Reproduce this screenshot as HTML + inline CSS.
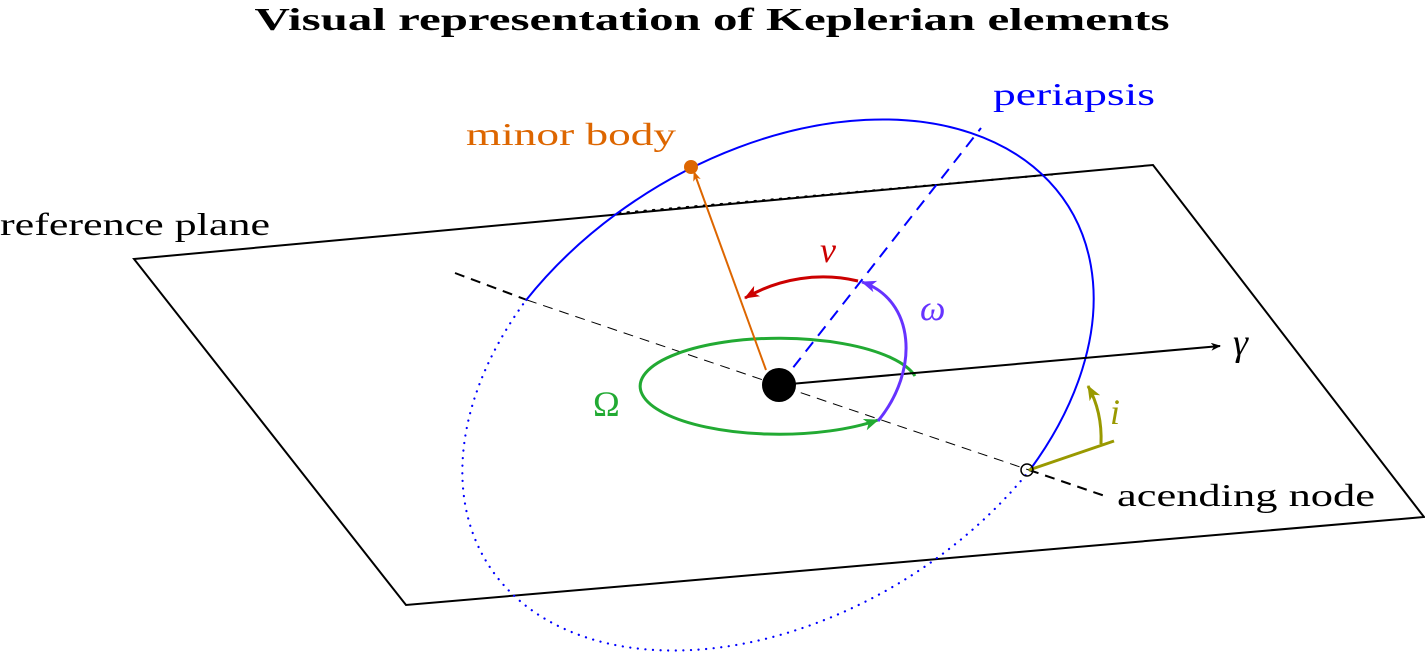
<!DOCTYPE html>
<html><head><meta charset="utf-8"><style>
html,body{margin:0;padding:0;background:#fff;}
svg{display:block;}
text{font-family:"Liberation Serif",serif;}
</style></head><body>
<svg width="1425" height="659" viewBox="0 0 1425 659" xmlns="http://www.w3.org/2000/svg">
<defs>
<marker id="aK" markerWidth="10" markerHeight="8" refX="9" refY="4" orient="auto" markerUnits="userSpaceOnUse"><path d="M0,0 L10,4 L0,8 L3,4z" fill="#000"/></marker>
<marker id="aO" markerWidth="10" markerHeight="8" refX="9" refY="4" orient="auto" markerUnits="userSpaceOnUse"><path d="M0,0 L10,4 L0,8 L3,4z" fill="#dd6600"/></marker>
<marker id="aR" markerWidth="16" markerHeight="12" refX="14" refY="6" orient="auto" markerUnits="userSpaceOnUse"><path d="M0,0 L15,6 L0,12 L4,6z" fill="#cc0000"/></marker>
<marker id="aP" markerWidth="16" markerHeight="12" refX="14" refY="6" orient="auto" markerUnits="userSpaceOnUse"><path d="M0,0 L15,6 L0,12 L4,6z" fill="#6633ff"/></marker>
<marker id="aG" markerWidth="16" markerHeight="12" refX="14" refY="6" orient="auto" markerUnits="userSpaceOnUse"><path d="M0,0 L15,6 L0,12 L4,6z" fill="#22aa33"/></marker>
<marker id="aY" markerWidth="16" markerHeight="12" refX="14" refY="6" orient="auto" markerUnits="userSpaceOnUse"><path d="M0,0 L15,6 L0,12 L4,6z" fill="#999900"/></marker>
</defs>
<text x="712" y="30" text-anchor="middle" font-weight="bold" font-size="32" textLength="915" lengthAdjust="spacingAndGlyphs">Visual representation of Keplerian elements</text>
<polygon points="134,259 1153,165 1424,517 406,605" fill="none" stroke="#000" stroke-width="2"/>
<line x1="619" y1="213" x2="1058" y2="174" stroke="#000" stroke-width="2" stroke-dasharray="1.5,7" stroke-linecap="round"/>
<line x1="455" y1="273" x2="527" y2="300" stroke="#000" stroke-width="2" stroke-dasharray="10,7"/>
<line x1="527" y1="300" x2="1029" y2="470" stroke="#000" stroke-width="1" stroke-dasharray="10,7"/>
<line x1="1029" y1="470" x2="1105" y2="496" stroke="#000" stroke-width="2" stroke-dasharray="10,7"/>
<path d="M525.7,300.6 A348.5,235.1 -32.1 0 1 1030.3,469.4" fill="none" stroke="#0000ff" stroke-width="2"/>
<path d="M1030.3,469.4 A348.5,235.1 -32.1 0 1 525.7,300.6" fill="none" stroke="#0000ff" stroke-width="2.2" stroke-dasharray="0.1,7.5" stroke-linecap="round"/>
<line x1="781" y1="383" x2="981" y2="128" stroke="#0000ff" stroke-width="2" stroke-dasharray="12,8"/>
<path d="M915,376 A139,48 0 1 0 878,420" fill="none" stroke="#22aa33" stroke-width="3" marker-end="url(#aG)"/>
<line x1="779" y1="385" x2="1220" y2="346" stroke="#000" stroke-width="2" marker-end="url(#aK)"/>
<path d="M878,421 C920,370 915,300 862,282" fill="none" stroke="#6633ff" stroke-width="3" marker-end="url(#aP)"/>
<path d="M858,281 C820,272 780,278 745,298" fill="none" stroke="#cc0000" stroke-width="3" marker-end="url(#aR)"/>
<line x1="766" y1="370" x2="694" y2="172" stroke="#dd6600" stroke-width="2" marker-end="url(#aO)"/>
<circle cx="691" cy="167" r="7" fill="#dd6600"/>
<circle cx="779" cy="385" r="17" fill="#000"/>
<line x1="1029" y1="470" x2="1114" y2="441" stroke="#999900" stroke-width="3"/>
<path d="M1101,444 C1102,420 1097,402 1088,386" fill="none" stroke="#999900" stroke-width="3" marker-end="url(#aY)"/>
<circle cx="1027" cy="470" r="6" fill="none" stroke="#000" stroke-width="1.5"/>
<text x="0" y="235" font-size="32" textLength="270" lengthAdjust="spacingAndGlyphs">reference plane</text>
<text x="466" y="145" font-size="32" fill="#dd6600" textLength="210" lengthAdjust="spacingAndGlyphs">minor body</text>
<text x="993" y="105" font-size="32" fill="#0000ff" textLength="162" lengthAdjust="spacingAndGlyphs">periapsis</text>
<text x="1117" y="506" font-size="32" textLength="258" lengthAdjust="spacingAndGlyphs">acending node</text>
<text x="820" y="262" font-size="36" font-style="italic" fill="#cc0000">ν</text>
<text x="920" y="320" font-size="36" font-style="italic" fill="#6633ff">ω</text>
<text x="593" y="416" font-size="36" fill="#22aa33">Ω</text>
<text x="1110" y="424" font-size="36" font-style="italic" fill="#999900">i</text>
<text x="1233" y="355" font-size="38" font-style="italic">γ</text>
</svg>
</body></html>
